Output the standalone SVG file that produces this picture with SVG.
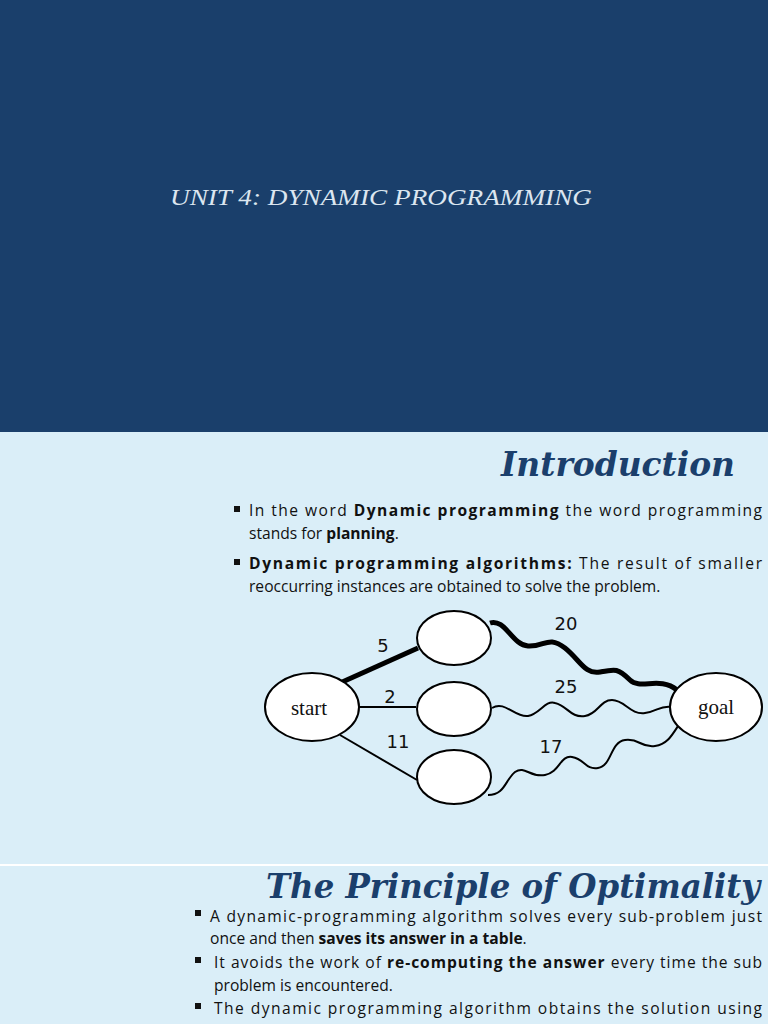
<svg xmlns="http://www.w3.org/2000/svg" width="768" height="1024" viewBox="0 0 768 1024">
<style>
.b{font-family:"Open Sans","Liberation Sans",sans-serif;font-size:15.6px;fill:#111}
.bb{font-weight:bold}
.h{font-family:"DejaVu Serif",serif;font-style:italic;font-weight:bold;font-size:33px;fill:#1b3f6c}
.n{fill:#fff;stroke:#000;stroke-width:2}
.l{font-family:"DejaVu Sans",sans-serif;font-size:18px;fill:#111;text-anchor:middle}
.s{font-family:"Liberation Serif",serif;font-size:21px;fill:#111;text-anchor:middle}
.e{fill:none;stroke:#000;stroke-width:2}
.t{stroke-width:5}
</style>
<rect width="768" height="432" fill="#1a3f6b"/>
<rect y="432" width="768" height="592" fill="#daeef8"/>
<line x1="0" y1="865" x2="768" y2="865" stroke="#fff" stroke-width="2"/>
<text x="170" y="205" textLength="422" lengthAdjust="spacingAndGlyphs" font-family="Liberation Serif,serif" font-style="italic" font-size="23" fill="#dce6f0">UNIT  4: DYNAMIC  PROGRAMMING</text>
<text class="h" x="501" y="476" textLength="234" lengthAdjust="spacingAndGlyphs">Introduction</text>
<g fill="#111"><rect x="234" y="506" width="6" height="6"/><rect x="234" y="559" width="6" height="6"/>
<rect x="195" y="910" width="6" height="6"/><rect x="195" y="957" width="6" height="6"/><rect x="195" y="1003" width="6" height="6"/></g>
<text class="b" x="249" y="516" textLength="513" lengthAdjust="spacing">In the word <tspan class="bb">Dynamic programming</tspan> the word programming</text>
<text class="b" x="249" y="539">stands for <tspan class="bb">planning</tspan>.</text>
<text class="b" x="249" y="569" textLength="513" lengthAdjust="spacing"><tspan class="bb">Dynamic programming algorithms:</tspan> The result of smaller</text>
<text class="b" x="249" y="592">reoccurring instances are obtained to solve the problem.</text>
<g id="connectors">
<path class="e t" d="M340,683 L418,648"/>
<path class="e" d="M359,707 L416,707"/>
<path class="e" d="M340,735 L417,780"/>
<path class="e t" d="M490,623 C505,618 512,645 528,646 C545,647 548,635 565,648 C580,660 585,675 600,672 C615,669 618,668 630,680 C640,690 660,676 677,690"/>
<path class="e" d="M492,708 C505,700 515,718 528,716 C540,714 545,700 555,703 C568,706 570,718 585,716 C598,714 600,700 612,700 C625,700 630,715 645,713 C658,711 660,705 672,707"/>
<path class="e" d="M488,795 C505,795 505,780 515,772 C525,765 530,778 545,775 C560,772 560,755 572,757 C585,759 585,770 598,768 C612,766 610,742 625,740 C640,738 640,748 655,746 C668,744 672,735 680,723"/>
</g>
<g id="n-start"><ellipse class="n" cx="312" cy="707" rx="47" ry="34"/><text class="s" x="309" y="715">start</text></g>
<g id="n-top"><ellipse class="n" cx="454" cy="638" rx="37" ry="27"/></g>
<g id="n-mid"><ellipse class="n" cx="454" cy="709" rx="37" ry="27"/></g>
<g id="n-bot"><ellipse class="n" cx="454" cy="777" rx="37" ry="27"/></g>
<g id="n-goal"><ellipse class="n" cx="716" cy="707" rx="46" ry="34"/><text class="s" x="716" y="714">goal</text></g>
<text class="l" x="383" y="652">5</text>
<text class="l" x="566" y="630">20</text>
<text class="l" x="390" y="703">2</text>
<text class="l" x="566" y="693">25</text>
<text class="l" x="398" y="748">11</text>
<text class="l" x="551" y="753">17</text>
<text class="h" x="266" y="898" textLength="494" lengthAdjust="spacingAndGlyphs">The Principle of Optimality</text>
<text class="b" x="210" y="922" textLength="552" lengthAdjust="spacing">A dynamic-programming algorithm solves every sub-problem just</text>
<text class="b" x="210" y="944">once and then <tspan class="bb">saves its answer in a table</tspan>.</text>
<text class="b" x="214" y="968" textLength="548" lengthAdjust="spacing">It avoids the work of <tspan class="bb">re-computing the answer</tspan> every time the sub</text>
<text class="b" x="214" y="991">problem is encountered.</text>
<text class="b" x="214" y="1014" textLength="548" lengthAdjust="spacing">The dynamic programming algorithm obtains the solution using</text>
</svg>
